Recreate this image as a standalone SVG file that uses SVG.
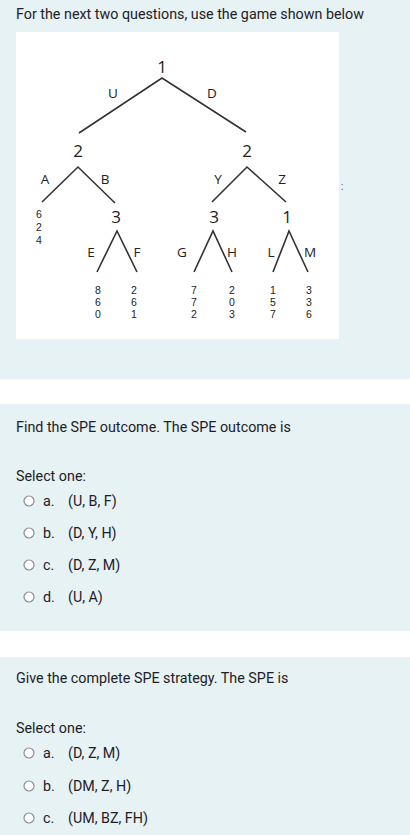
<svg xmlns="http://www.w3.org/2000/svg" width="410" height="835" viewBox="0 0 410 835">
<style>
.q{font-family:Roboto,"Liberation Sans",sans-serif;font-size:14.3px;fill:#1d2125}
.t{font-family:"Open Sans","Noto Sans",sans-serif;fill:#222}
.p{font-size:17px}
.a{font-size:13.5px}
.n{font-family:"Liberation Sans",Arial,sans-serif;font-size:10.5px}
.e{stroke:#333;stroke-width:1.6;fill:none}
.r{fill:#fff;stroke:#8a8f96;stroke-width:1.2}
</style>
<rect x="0" y="0" width="410" height="835" fill="#fff"/>
<rect x="0" y="0" width="410" height="379" fill="#e7f2f5"/>
<rect x="0" y="404" width="410" height="227" fill="#e7f2f5"/>
<rect x="0" y="657" width="410" height="178" fill="#e7f2f5"/>
<rect x="16" y="32" width="323" height="307" fill="#fff"/>
<text class="q" x="16" y="19">For the next two questions, use the game shown below</text>

<g id="connectors">
<path class="e" d="M79 133 L162 78 L246 132"/>
<path class="e" d="M42 202 L78 167 L115 203"/>
<path class="e" d="M212 202 L247 167 L286 202"/>
<path class="e" d="M97 272 L117 231 L137 272"/>
<path class="e" d="M194 272 L213 231 L232 272"/>
<path class="e" d="M273 272 L289 231 L308 272"/>
</g>
<g class="t">
<g id="n1"><text class="p" x="162" y="73" text-anchor="middle">1</text></g>
<g id="lblU"><text class="a" x="113" y="98" text-anchor="middle">U</text></g>
<g id="lblD"><text class="a" x="212" y="98" text-anchor="middle">D</text></g>
<g id="n2L"><text class="p" x="78" y="157" text-anchor="middle">2</text></g>
<g id="n2R"><text class="p" x="247" y="157" text-anchor="middle">2</text></g>
<g id="lblA"><text class="a" x="45" y="184" text-anchor="middle">A</text></g>
<g id="lblB"><text class="a" x="105" y="184" text-anchor="middle">B</text></g>
<g id="lblY"><text class="a" x="218" y="184" text-anchor="middle">Y</text></g>
<g id="lblZ"><text class="a" x="282" y="184" text-anchor="middle">Z</text></g>
<g id="payA"><text class="n" text-anchor="middle" font-size="11"><tspan x="39" y="218">6</tspan><tspan x="39" y="231">2</tspan><tspan x="39" y="244">4</tspan></text></g>
<g id="n3a"><text class="p" x="116" y="223" text-anchor="middle">3</text></g>
<g id="n3b"><text class="p" x="214" y="223" text-anchor="middle">3</text></g>
<g id="n1b"><text class="p" x="287" y="223" text-anchor="middle">1</text></g>
<g id="lblE"><text class="a" x="91" y="257" text-anchor="middle">E</text></g>
<g id="lblF"><text class="a" x="137" y="257" text-anchor="middle">F</text></g>
<g id="lblG"><text class="a" x="182" y="257" text-anchor="middle">G</text></g>
<g id="lblH"><text class="a" x="232" y="257" text-anchor="middle">H</text></g>
<g id="lblL"><text class="a" x="271" y="257" text-anchor="middle">L</text></g>
<g id="lblM"><text class="a" x="310" y="257" text-anchor="middle">M</text></g>
<g id="payE"><text class="n" text-anchor="middle"><tspan x="98" y="294">8</tspan><tspan x="98" y="306">6</tspan><tspan x="98" y="318">0</tspan></text></g>
<g id="payF"><text class="n" text-anchor="middle"><tspan x="134" y="294">2</tspan><tspan x="134" y="306">6</tspan><tspan x="134" y="318">1</tspan></text></g>
<g id="payG"><text class="n" text-anchor="middle"><tspan x="194" y="294">7</tspan><tspan x="194" y="306">7</tspan><tspan x="194" y="318">2</tspan></text></g>
<g id="payH"><text class="n" text-anchor="middle"><tspan x="232" y="294">2</tspan><tspan x="232" y="306">0</tspan><tspan x="232" y="318">3</tspan></text></g>
<g id="payL"><text class="n" text-anchor="middle"><tspan x="273" y="294">1</tspan><tspan x="273" y="306">5</tspan><tspan x="273" y="318">7</tspan></text></g>
<g id="payM"><text class="n" text-anchor="middle"><tspan x="309" y="294">3</tspan><tspan x="309" y="306">3</tspan><tspan x="309" y="318">6</tspan></text></g>
</g>
<text x="342" y="190" font-family="Roboto,sans-serif" font-size="11" fill="#555" text-anchor="middle">:</text>

<text class="q" x="16" y="432">Find the SPE outcome. The SPE outcome is</text>
<text class="q" x="16" y="481">Select one:</text>
<g id="q1">
<circle class="r" cx="29" cy="501" r="5"/><text class="q" x="43" y="506">a.</text><text class="q" x="68" y="506">(U, B, F)</text>
<circle class="r" cx="29" cy="533" r="5"/><text class="q" x="43" y="538">b.</text><text class="q" x="68" y="538">(D, Y, H)</text>
<circle class="r" cx="29" cy="565" r="5"/><text class="q" x="43" y="570">c.</text><text class="q" x="68" y="570">(D, Z, M)</text>
<circle class="r" cx="29" cy="597" r="5"/><text class="q" x="43" y="602">d.</text><text class="q" x="68" y="602">(U, A)</text>
</g>

<text class="q" x="16" y="683">Give the complete SPE strategy. The SPE is</text>
<text class="q" x="16" y="733">Select one:</text>
<g id="q2">
<circle class="r" cx="29" cy="753" r="5"/><text class="q" x="43" y="758">a.</text><text class="q" x="68" y="758">(D, Z, M)</text>
<circle class="r" cx="29" cy="786" r="5"/><text class="q" x="43" y="791">b.</text><text class="q" x="68" y="791">(DM, Z, H)</text>
<circle class="r" cx="29" cy="818" r="5"/><text class="q" x="43" y="823">c.</text><text class="q" x="68" y="823">(UM, BZ, FH)</text>
</g>
</svg>
